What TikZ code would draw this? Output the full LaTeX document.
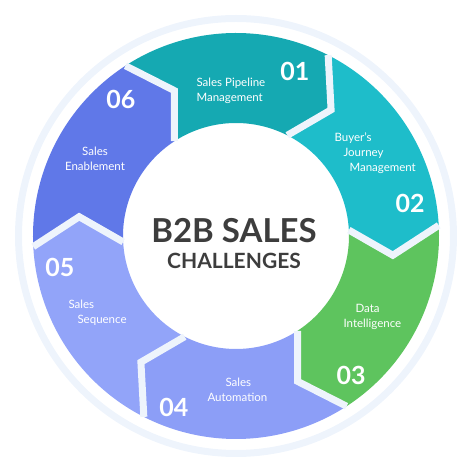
\documentclass[tikz,border=0pt]{standalone}
\usepackage{fontspec}
\setmainfont{Lato}
\usetikzlibrary{positioning}
\definecolor{segA}{HTML}{15A9B2}
\definecolor{segB}{HTML}{1EBDCA}
\definecolor{segC}{HTML}{5EC45E}
\definecolor{segD}{HTML}{8C9EF7}
\definecolor{segE}{HTML}{92A4F9}
\definecolor{segF}{HTML}{6078E8}
\definecolor{gapc}{HTML}{EEF4FC}
\definecolor{titlec}{HTML}{3D3D3D}

\begin{document}
\begin{tikzpicture}
            \tikzset{
                gap/.style={draw=gapc, line width=7pt, line join=miter},
                num/.style={text=white, font=\bfseries\fontsize{25}{25}\selectfont},
                lab/.style={text=white, font=\fontsize{11.5}{15}\selectfont, align=left, anchor=west},}
            \useasboundingbox (-236pt,-234pt) rectangle (238pt,236pt);
            \def\Rout{203pt} \def\Rin{113pt} \def\Rmid{158pt}
            % outer pale ring
            \draw [gapc, line width=7pt] (0,0) circle (217.5pt);
            % the six arrow segments
            \foreach \s/\e/\col in {123/63/segA, 63/3/segB, 3/-57/segC, -57/-117/segD, -117/-177/segE, -177/-237/segF}
                \fill [\col] (\s:\Rout) arc [start angle=\s, end angle=\e, radius=\Rout] -- ({\e-10}:\Rmid) -- (\e:\Rin)
                    arc [start angle=\e, end angle=\s, radius=\Rin] -- ({\s-10}:\Rmid) -- cycle;
            \foreach \b in {123,63,3,-57,-117,-177}
                \draw [gap] (\b:\Rout) -- ({\b-10}:\Rmid) -- (\b:\Rin);
            % numbers
            \node [num] (n1) at (59pt,165pt) {01};
            \node [num] (n2) at (174pt,33pt) {02};
            \node [num] (n3) at (115pt,-139pt) {03};
            \node [num] (n4) at (-62pt,-171pt) {04};
            \node [num] (n5) at (-176pt,-31pt) {05};
            \node [num] (n6) at (-115pt,137pt) {06};
            % labels
            \node [lab] (t1) at (-43pt,145.5pt) {Sales Pipeline\\Management};
            \node [lab] (t2) at (95pt,83pt) {Buyer's\\\hspace*{9pt}Journey\\\hspace*{15pt}Management};
            \node [lab] (t3) at (104pt,-80.5pt) {\hspace*{12pt}Data\\Intelligence};
            \node [lab] (t4) at (-32pt,-154pt) {\hspace*{18pt}Sales\\Automation};
            \node [lab] (t5) at (-171pt,-76.5pt) {Sales\\\hspace*{9pt}Sequence};
            \node [lab, align=center, anchor=center] (t6) at (-141pt,77pt) {Sales\\Enablement};
            % centre
            \node [titlec, font=\bfseries\fontsize{33}{33}\selectfont] (title) at (-2pt,5pt) {B2B SALES};
            \node [titlec, font=\bfseries\fontsize{21}{21}\selectfont, below=3pt of title] (sub) {CHALLENGES};
        \end{tikzpicture}
\end{document}
